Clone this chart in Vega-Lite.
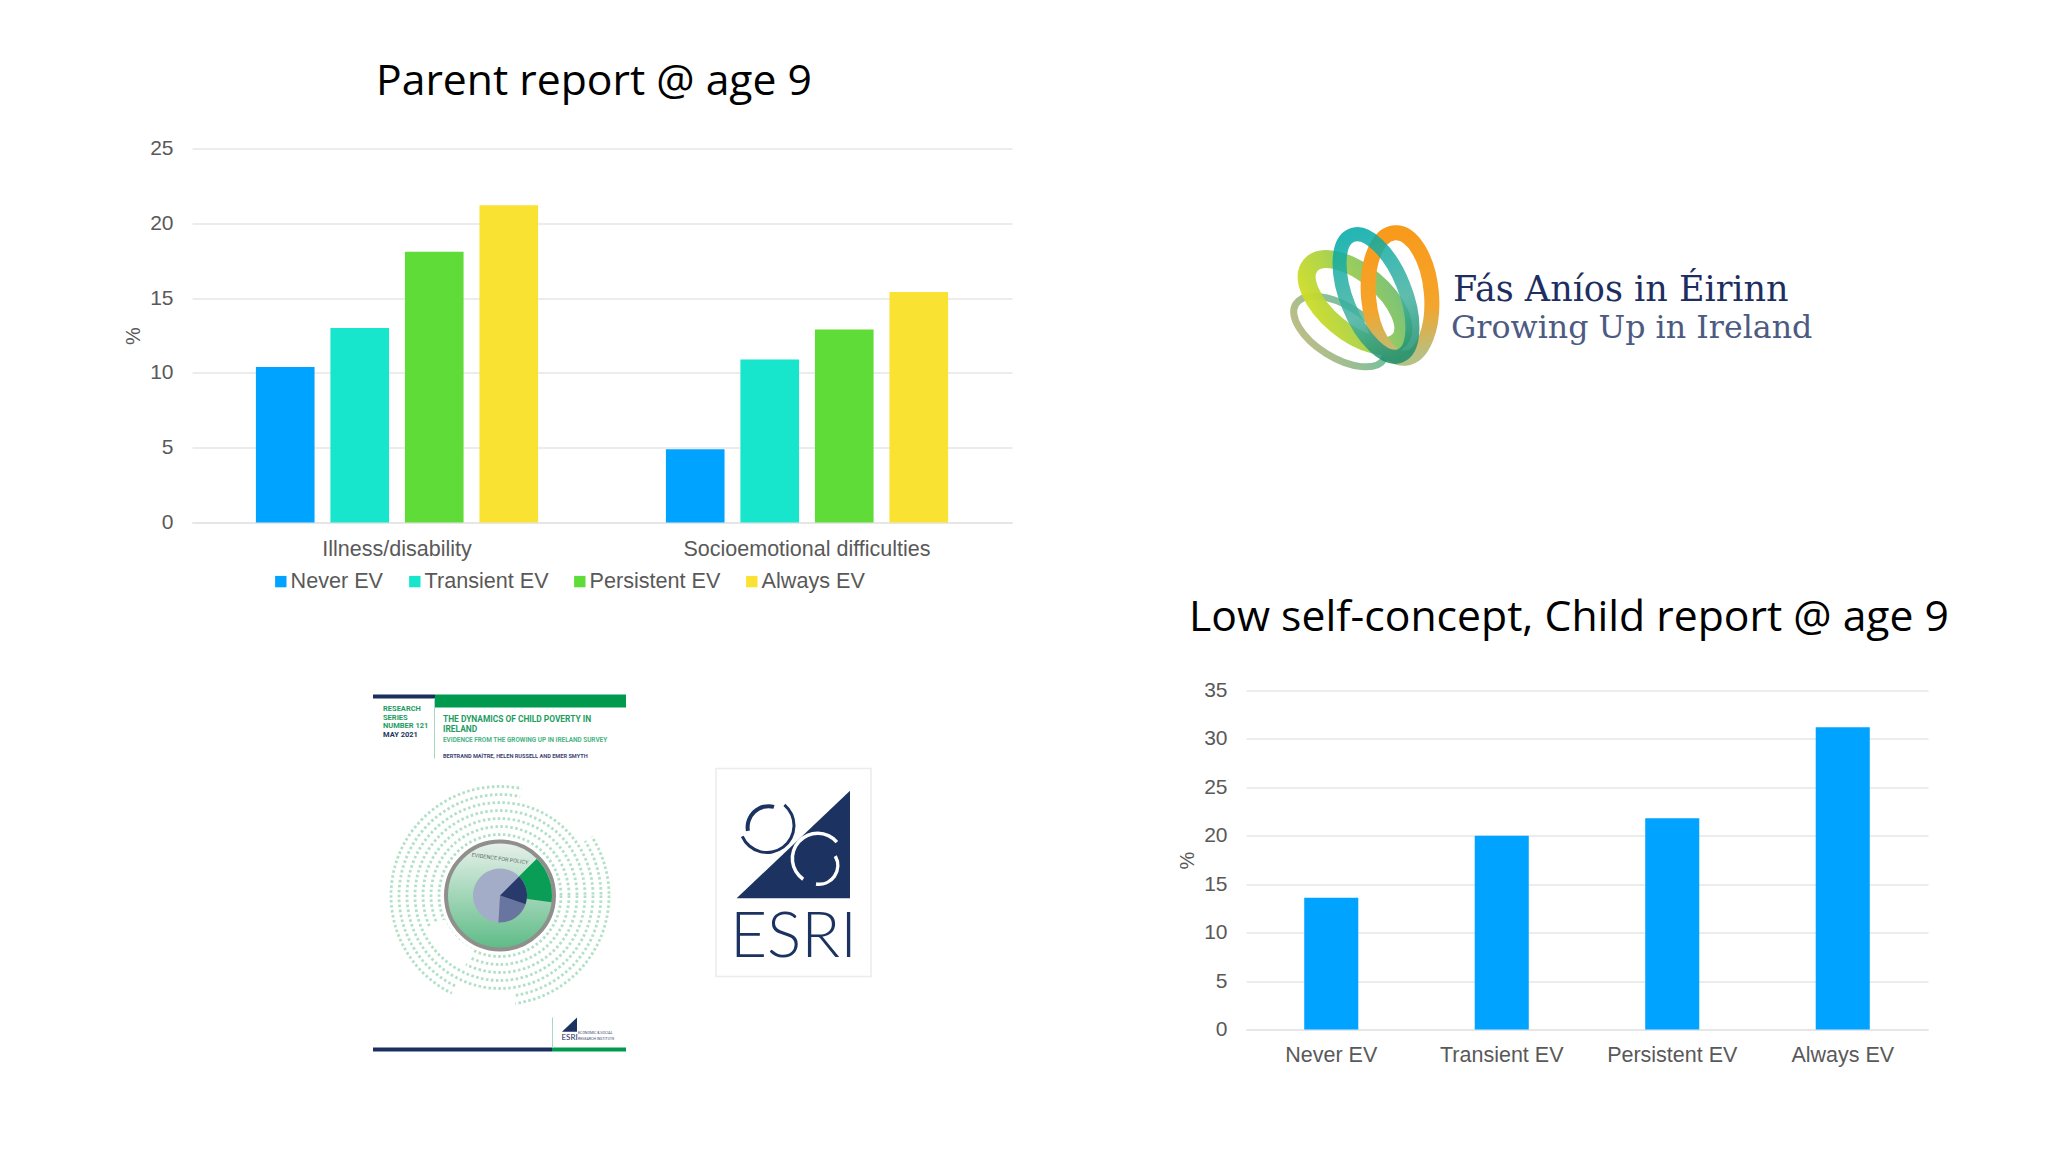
{"$schema":"https://vega.github.io/schema/vega-lite/v6.json","background":"white","padding":{"left":123,"top":60.5,"right":0,"bottom":0},"bounds":"flush","columns":2,"spacing":{"row":168,"column":234},"config":{"view":{"stroke":null},"axis":{"labelFont":"Liberation Sans","titleFont":"Liberation Sans","labelColor":"#595959","titleColor":"#595959","labelFontSize":21,"titleFontSize":20,"titleFontWeight":"normal","gridColor":"#e6e6e6","gridWidth":1.5,"domainColor":"#e6e6e6","domainWidth":2,"ticks":false,"labelLimit":500},"title":{"font":"Open Sans","fontSize":42.7,"fontWeight":"normal","color":"#000000"},"legend":{"labelFont":"Liberation Sans","labelColor":"#595959","labelFontSize":21.6}},"concat":[{"width":820,"height":374,"title":{"text":"Parent report @ age 9","anchor":"middle","dx":-8,"offset":33.5},"data":{"values":[{"g":"Illness/disability","s":"Never EV","p":10.4},{"g":"Illness/disability","s":"Transient EV","p":13.0},{"g":"Illness/disability","s":"Persistent EV","p":18.1},{"g":"Illness/disability","s":"Always EV","p":21.2},{"g":"Socioemotional difficulties","s":"Never EV","p":4.9},{"g":"Socioemotional difficulties","s":"Transient EV","p":10.9},{"g":"Socioemotional difficulties","s":"Persistent EV","p":12.9},{"g":"Socioemotional difficulties","s":"Always EV","p":15.4}]},"mark":{"type":"bar"},"encoding":{"x":{"field":"g","type":"nominal","title":null,"scale":{"paddingInner":0.273,"paddingOuter":0.1365},"axis":{"labelAngle":0,"labelPadding":15.5,"grid":false,"labelFontSize":21.5}},"xOffset":{"field":"s","type":"nominal","sort":["Never EV","Transient EV","Persistent EV","Always EV"],"scale":{"paddingInner":0.213,"paddingOuter":0.1065}},"y":{"field":"p","type":"quantitative","title":"%","scale":{"domain":[0,25],"nice":false},"axis":{"values":[0,5,10,15,20,25],"labelPadding":19,"titlePadding":6,"domain":false}},"color":{"field":"s","type":"nominal","sort":["Never EV","Transient EV","Persistent EV","Always EV"],"scale":{"domain":["Never EV","Transient EV","Persistent EV","Always EV"],"range":["#00a3ff","#17e6cc","#60dc38","#f9e231"]},"legend":{"title":null,"orient":"none","legendX":78,"legendY":422,"direction":"horizontal","columns":4,"symbolType":"square","symbolSize":130,"symbolStrokeWidth":0,"labelOffset":-1,"columnPadding":20,"gridAlign":"each"}}}},{"width":682,"height":374,"encoding":{"x":{"field":"u","type":"quantitative","scale":{"domain":[1246,1928],"nice":false,"zero":false},"axis":null},"y":{"field":"v","type":"quantitative","scale":{"domain":[522,148],"nice":false,"zero":false},"axis":null},"text":{"field":"t","type":"nominal"}},"layer":[{"data":{"values":[{"u":1340,"v":331}]},"mark":{"type":"point","shape":"M0,-1 C0.28,-1 0.5,-0.55 0.5,0 C0.5,0.55 0.28,1 0,1 C-0.28,1 -0.5,0.55 -0.5,0 C-0.5,-0.55 -0.28,-1 0,-1 Z","size":10816,"angle":-58,"filled":false,"strokeWidth":7,"opacity":1,"stroke":{"gradient":"linear","x1":0,"y1":0,"x2":1,"y2":1,"stops":[{"offset":0,"color":"#c9bd83"},{"offset":1,"color":"#5cc1a8"}]}}},{"data":{"values":[{"u":1355,"v":302}]},"mark":{"type":"point","shape":"M0,-1 C0.28,-1 0.5,-0.55 0.5,0 C0.5,0.55 0.28,1 0,1 C-0.28,1 -0.5,0.55 -0.5,0 C-0.5,-0.55 -0.28,-1 0,-1 Z","size":13456,"angle":-50,"filled":false,"strokeWidth":18,"opacity":0.95,"stroke":{"gradient":"linear","x1":0,"y1":0,"x2":1,"y2":1,"stops":[{"offset":0,"color":"#d5e021"},{"offset":1,"color":"#6cbd78"}]}}},{"data":{"values":[{"u":1400,"v":295}]},"mark":{"type":"point","shape":"M0,-1 C0.28,-1 0.5,-0.55 0.5,0 C0.5,0.55 0.28,1 0,1 C-0.28,1 -0.5,0.55 -0.5,0 C-0.5,-0.55 -0.28,-1 0,-1 Z","size":15876,"angle":-5,"filled":false,"strokeWidth":15,"opacity":1,"stroke":{"gradient":"linear","x1":0,"y1":0,"x2":0,"y2":1,"stops":[{"offset":0,"color":"#f89a1c"},{"offset":0.6,"color":"#f4a52b"},{"offset":1,"color":"#b6c184"}]}}},{"data":{"values":[{"u":1376,"v":295}]},"mark":{"type":"point","shape":"M0,-1 C0.25,-1 0.45,-0.55 0.45,0 C0.45,0.55 0.25,1 0,1 C-0.25,1 -0.45,0.55 -0.45,0 C-0.45,-0.55 -0.25,-1 0,-1 Z","size":16900,"angle":-22,"filled":false,"strokeWidth":14,"opacity":0.85,"stroke":{"gradient":"linear","x1":0,"y1":0,"x2":0,"y2":1,"stops":[{"offset":0,"color":"#00aaa8"},{"offset":0.6,"color":"#45b2a0"},{"offset":1,"color":"#1d8f6c"}]}}},{"data":{"values":[{"u":1453,"v":300,"t":"Fás Aníos in Éirinn"}]},"mark":{"type":"text","align":"left","baseline":"alphabetic","font":"DejaVu Serif","fontSize":35,"color":"#1d2f60"}},{"data":{"values":[{"u":1451,"v":337,"t":"Growing Up in Ireland"}]},"mark":{"type":"text","align":"left","baseline":"alphabetic","font":"DejaVu Serif","fontSize":31.7,"color":"#4d5b83"}}]},{"width":820,"height":339,"encoding":{"x":{"field":"u","type":"quantitative","scale":{"domain":[192,1012],"nice":false,"zero":false},"axis":null},"x2":{"field":"u2"},"y":{"field":"v","type":"quantitative","scale":{"domain":[1029,690],"nice":false,"zero":false},"axis":null},"y2":{"field":"v2"},"text":{"field":"t","type":"nominal"}},"layer":[{"data":{"values":[{"u":373,"u2":435,"v":694,"v2":698},{"u":373,"u2":552,"v":1047,"v2":1051}]},"mark":{"type":"rect","color":"#1b2f5e"}},{"data":{"values":[{"u":435,"u2":626,"v":694,"v2":707},{"u":552,"u2":626,"v":1047,"v2":1051}]},"mark":{"type":"rect","color":"#009a4e"}},{"data":{"values":[{"u":434,"u2":435,"v":698,"v2":758},{"u":552,"u2":553,"v":1017,"v2":1047}]},"mark":{"type":"rect","color":"#a8d8bf"}},{"data":{"values":[{"u":383,"v":710,"t":"RESEARCH"},{"u":383,"v":719,"t":"SERIES"},{"u":383,"v":727,"t":"NUMBER 121"}]},"mark":{"type":"text","align":"left","baseline":"alphabetic","font":"Roboto","fontWeight":"bold","fontSize":7.5,"color":"#1e9d62"}},{"data":{"values":[{"u":383,"v":736,"t":"MAY 2021"}]},"mark":{"type":"text","align":"left","baseline":"alphabetic","font":"Roboto","fontWeight":"bold","fontSize":7.5,"color":"#24365f"}},{"data":{"values":[{"u":443,"v":721,"t":"THE DYNAMICS OF CHILD POVERTY IN"},{"u":443,"v":731,"t":"IRELAND"}]},"mark":{"type":"text","align":"left","baseline":"alphabetic","font":"Roboto","fontWeight":"bold","fontSize":8.4,"color":"#1e9d62"}},{"data":{"values":[{"u":443,"v":741,"t":"EVIDENCE FROM THE GROWING UP IN IRELAND SURVEY"}]},"mark":{"type":"text","align":"left","baseline":"alphabetic","font":"Roboto","fontWeight":"bold","fontSize":6.4,"color":"#4bb585"}},{"data":{"values":[{"u":443,"v":757,"t":"BERTRAND MAÎTRE, HELEN RUSSELL AND EMER SMYTH"}]},"mark":{"type":"text","align":"left","baseline":"alphabetic","font":"Roboto","fontWeight":"bold","fontSize":5.6,"color":"#3d3f73"}},{"data":{"values":[{"u":500,"v":895}]},"mark":{"type":"point","size":47524,"filled":false,"strokeWidth":2.8,"strokeDash":[2.5,2.5],"opacity":0.85,"color":"#a3dcbc"}},{"data":{"values":[{"u":500,"v":895}]},"mark":{"type":"point","size":40804,"filled":false,"strokeWidth":2.8,"strokeDash":[2.5,2.5],"opacity":0.85,"color":"#a3dcbc"}},{"data":{"values":[{"u":500,"v":895}]},"mark":{"type":"point","size":34596,"filled":false,"strokeWidth":2.8,"strokeDash":[2.5,2.5],"opacity":0.85,"color":"#a3dcbc"}},{"data":{"values":[{"u":500,"v":895}]},"mark":{"type":"point","size":28900,"filled":false,"strokeWidth":2.8,"strokeDash":[2.5,2.5],"opacity":0.85,"color":"#a3dcbc"}},{"data":{"values":[{"u":500,"v":895}]},"mark":{"type":"point","size":23716,"filled":false,"strokeWidth":2.8,"strokeDash":[2.5,2.5],"opacity":0.85,"color":"#a3dcbc"}},{"data":{"values":[{"u":500,"v":895}]},"mark":{"type":"point","size":19044,"filled":false,"strokeWidth":2.8,"strokeDash":[2.5,2.5],"opacity":0.85,"color":"#a3dcbc"}},{"data":{"values":[{"u":500,"v":895}]},"mark":{"type":"point","size":14884,"filled":false,"strokeWidth":2.8,"strokeDash":[2.5,2.5],"opacity":0.85,"color":"#a3dcbc"}},{"data":{"values":[{"u":500,"v":895}]},"mark":{"type":"arc","theta":3.6,"theta2":4.3,"innerRadius":60,"outerRadius":82,"color":"#ffffff"}},{"data":{"values":[{"u":500,"v":895}]},"mark":{"type":"arc","theta":0.2,"theta2":1.0,"innerRadius":96,"outerRadius":112,"color":"#ffffff"}},{"data":{"values":[{"u":500,"v":895}]},"mark":{"type":"arc","theta":3.0,"theta2":3.6,"innerRadius":96,"outerRadius":112,"color":"#ffffff"}},{"data":{"values":[{"u":500,"v":895}]},"mark":{"type":"point","shape":"circle","size":11664,"strokeWidth":4,"opacity":1,"stroke":"#8f8f8c","filled":true,"fill":{"gradient":"linear","x1":0,"y1":0,"x2":0,"y2":1,"stops":[{"offset":0,"color":"#e9f1ec"},{"offset":0.45,"color":"#a9d9bd"},{"offset":1,"color":"#5dbb86"}]}}},{"data":{"values":[{"u":500,"v":895}]},"mark":{"type":"arc","theta":0.785,"theta2":1.7,"innerRadius":26,"outerRadius":52,"color":"#0a9d55"}},{"data":{"values":[{"u":500,"v":895}]},"mark":{"type":"arc","theta":0,"theta2":6.283,"innerRadius":0,"outerRadius":27,"color":"#a4adc8"}},{"data":{"values":[{"u":500,"v":895}]},"mark":{"type":"arc","theta":1.9,"theta2":3.2,"innerRadius":0,"outerRadius":27,"color":"#68769f"}},{"data":{"values":[{"u":500,"v":895}]},"mark":{"type":"arc","theta":0.785,"theta2":1.9,"innerRadius":0,"outerRadius":27,"color":"#28396c"}},{"data":{"values":[{"u":500,"v":858,"t":"EVIDENCE FOR POLICY"}]},"mark":{"type":"text","align":"center","baseline":"middle","font":"Roboto","fontSize":5.5,"color":"#5f6f6a","angle":8}},{"data":{"values":[{"u":569.5,"v":1024}]},"mark":{"type":"point","shape":"M-1,0.95 L1,-0.95 L1,0.95 Z","size":225,"filled":true,"opacity":1,"strokeWidth":0,"color":"#1c3260"}},{"data":{"values":[{"u":561.5,"v":1039,"t":"ESRI"}]},"mark":{"type":"text","align":"left","baseline":"alphabetic","font":"Lato","fontSize":8,"color":"#1c3260"}},{"data":{"values":[{"u":578,"v":1033,"t":"ECONOMIC & SOCIAL"},{"u":578,"v":1039,"t":"RESEARCH INSTITUTE"}]},"mark":{"type":"text","align":"left","baseline":"alphabetic","font":"Roboto","fontSize":3.6,"color":"#3d4a70"}},{"data":{"values":[{"u":716,"u2":871,"v":768,"v2":976}]},"mark":{"type":"rect","fill":"#ffffff","stroke":"#ececec","strokeWidth":1.5}},{"data":{"values":[{"u":793.3,"v":844}]},"mark":{"type":"point","shape":"M-1,0.95 L1,-0.95 L1,0.95 Z","size":12860,"filled":true,"opacity":1,"strokeWidth":0,"color":"#1c3260"}},{"data":{"values":[{"u":768.6,"v":826.7}]},"mark":{"type":"arc","theta":-1.75,"theta2":0.26,"innerRadius":19,"outerRadius":23,"color":"#1c3260"}},{"data":{"values":[{"u":767,"v":825}]},"mark":{"type":"arc","theta":0.7,"theta2":4.3,"innerRadius":25.5,"outerRadius":28.5,"color":"#1c3260"}},{"data":{"values":[{"u":817.6,"v":858}]},"mark":{"type":"arc","theta":3.75,"theta2":7.15,"innerRadius":23.5,"outerRadius":27,"color":"#ffffff"}},{"data":{"values":[{"u":819,"v":865}]},"mark":{"type":"arc","theta":1.05,"theta2":3.3,"innerRadius":17,"outerRadius":20.5,"color":"#ffffff"}},{"data":{"values":[{"u":730,"v":956,"t":"ESRI"}]},"mark":{"type":"text","align":"left","baseline":"alphabetic","font":"Lato","fontWeight":300,"fontSize":64,"color":"#1c3260"}}]},{"width":682,"height":339,"title":{"text":"Low self-concept, Child report @ age 9","anchor":"middle","dx":-18,"offset":40},"data":{"values":[{"s":"Never EV","p":13.6},{"s":"Transient EV","p":20.0},{"s":"Persistent EV","p":21.8},{"s":"Always EV","p":31.2}]},"mark":{"type":"bar","color":"#00a3ff"},"encoding":{"x":{"field":"s","type":"nominal","sort":["Never EV","Transient EV","Persistent EV","Always EV"],"title":null,"scale":{"paddingInner":0.683,"paddingOuter":0.3415},"axis":{"labelAngle":0,"labelPadding":15,"grid":false,"labelFontSize":21.5}},"y":{"field":"p","type":"quantitative","title":"%","scale":{"domain":[0,35],"nice":false},"axis":{"values":[0,5,10,15,20,25,30,35],"labelPadding":19,"titlePadding":6,"domain":false}}}}]}
